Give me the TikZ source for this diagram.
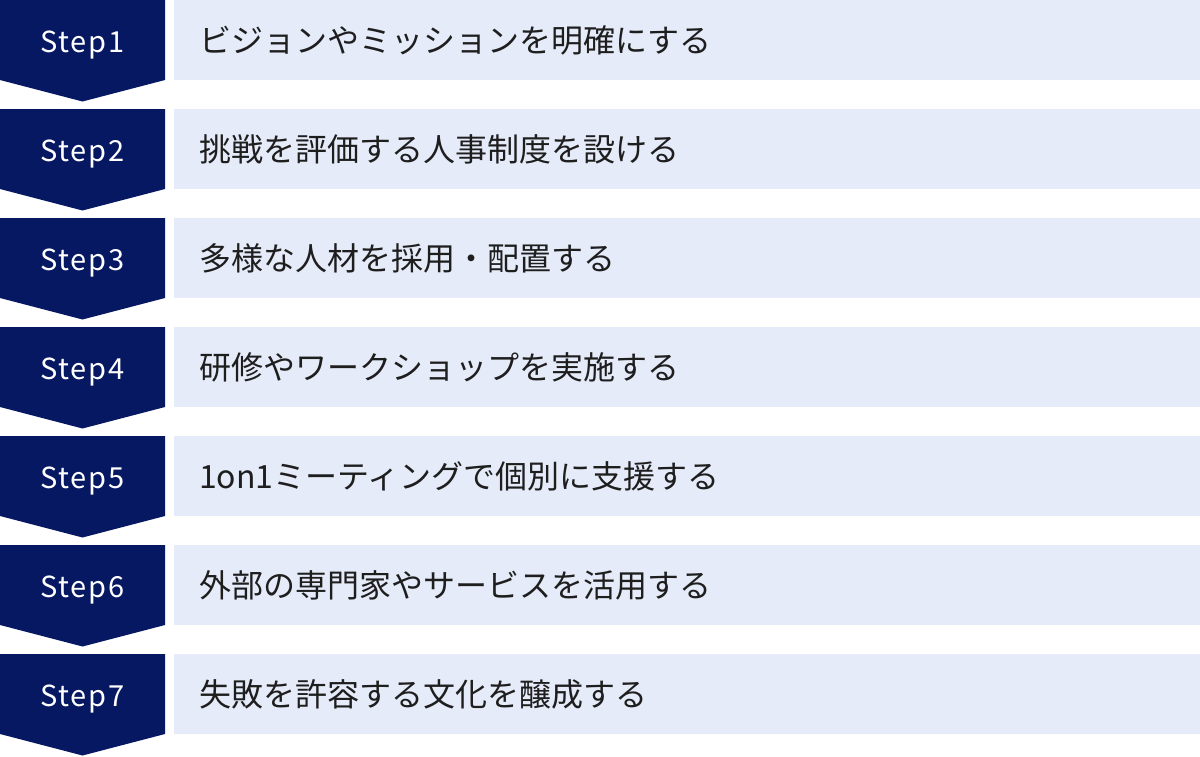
\documentclass[tikz,border=0pt]{standalone}
\usepackage{fontspec}
\setmainfont{Noto Sans}
\newfontfamily\jpfont{Noto Sans CJK JP}
\newfontfamily\labfont[LetterSpace=6]{Noto Sans CJK JP}
\definecolor{navy}{HTML}{061862}
\definecolor{pale}{HTML}{E5EBF8}
\definecolor{ink}{HTML}{1E1E1E}
\tikzset{
  stepshape/.style={fill=navy, draw=none},
  stepbar/.style={fill=pale, draw=none, rectangle, anchor=north west, minimum width=1026pt, minimum height=80pt, inner sep=0pt, outer sep=0pt},
  steplabel/.style={text=white, anchor=base, inner sep=0pt, font=\labfont\fontsize{29pt}{30pt}\selectfont},
  steptext/.style={text=ink, anchor=base west, inner sep=0pt, font=\jpfont\fontsize{32pt}{36pt}\selectfont},
}
\begin{document}
\begin{tikzpicture}[x=1pt,y=-1pt]
\useasboundingbox (0,0) rectangle (1200,756);
\foreach \i/\t in {1/ビジョンやミッションを明確にする,
                   2/挑戦を評価する人事制度を設ける,
                   3/多様な人材を採用・配置する,
                   4/研修やワークショップを実施する,
                   5/1on1ミーティングで個別に支援する,
                   6/外部の専門家やサービスを活用する,
                   7/失敗を許容する文化を醸成する} {
  \pgfmathsetmacro{\top}{109*(\i-1)}
  \fill[stepshape] (0,\top) -- (165,\top) -- (165,\top+80) -- (82.5,\top+101.5) -- (0,\top+80) -- cycle;
  \node[stepbar] (bar\i) at (174,\top) {};
  \node[steplabel] (lab\i) at (82.5,\top+52.5) {Step\i};
  \node[steptext] (txt\i) at (199,\top+52) {\t};
}
\end{tikzpicture}
\end{document}
